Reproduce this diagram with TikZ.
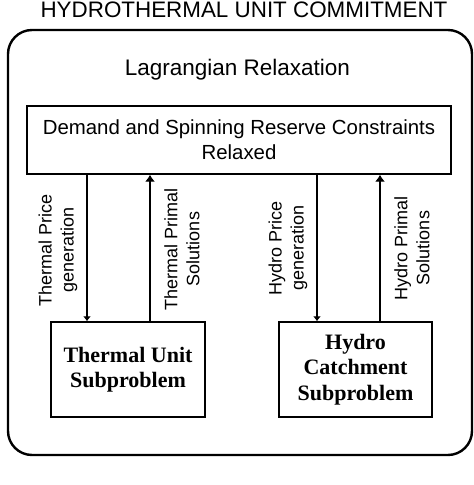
\documentclass[tikz,border=0pt]{standalone}
\usepackage{fontspec}
\setmainfont{Liberation Sans}
\newfontfamily\subfont{Liberation Serif}
\usepackage{tikz}
\usetikzlibrary{arrows.meta}

\begin{document}
\begin{tikzpicture}[x=1pt, y=-1pt,
	box/.style={draw, line width=1.4pt, align=center, inner sep=0pt},
	sub/.style={box, minimum height=95pt, font=\subfont\bfseries\fontsize{22}{25.5}\selectfont},
	lbl/.style={rotate=90, align=center, inner sep=0pt, font=\fontsize{18}{22}\selectfont},
	flow/.style={line width=1.2pt, -{Latex[length=7pt, width=10pt]}},
	price/.style={line width=1.2pt, -{Latex[length=5pt, width=8pt]}}]

\useasboundingbox (0,0) rectangle (474,485);

\node [anchor=base, font=\fontsize{22.4}{25}\selectfont] (title) at (244,17) {HYDROTHERMAL UNIT COMMITMENT};

\node [draw, line width=2.4pt, rounded corners=24pt, minimum width=464pt, minimum height=425pt] (frame) at (240,242.5) {};

\node [anchor=base, font=\fontsize{22.5}{25}\selectfont] (lagr) at (237.5,75) {Lagrangian Relaxation};

\node [box, minimum width=424pt, minimum height=68pt, font=\fontsize{20.4}{25}\selectfont] (relax) at (239,140) {
	Demand and Spinning Reserve Constraints \\
	Relaxed};

\node [sub, minimum width=154pt] (thermal) at (128,369.5) {
	Thermal Unit \\
	Subproblem};

\node [sub, minimum width=153pt] (hydro) at (355.5,369.5) {
	Hydro \\
	Catchment \\
	Subproblem};

\coordinate (tpg) at (87,0);
\coordinate (tps) at (150,0);
\coordinate (hpg) at (317,0);
\coordinate (hps) at (380,0);

\draw [price] (relax.south -| tpg) -- (thermal.north -| tpg);
\draw [flow] (thermal.north -| tps) -- (relax.south -| tps);
\draw [price] (relax.south -| hpg) -- (hydro.north -| hpg);
\draw [flow] (hydro.north -| hps) -- (relax.south -| hps);

\node [lbl] (tpgl) at (58,250) {Thermal Price \\ generation};
\node [lbl] (tpsl) at (182,249) {Thermal Primal \\ Solutions};
\node [lbl] (hpgl) at (288,248) {Hydro Price \\ generation};
\node [lbl] (hpsl) at (412,248) {Hydro Primal \\ Solutions};

\end{tikzpicture}
\end{document}
